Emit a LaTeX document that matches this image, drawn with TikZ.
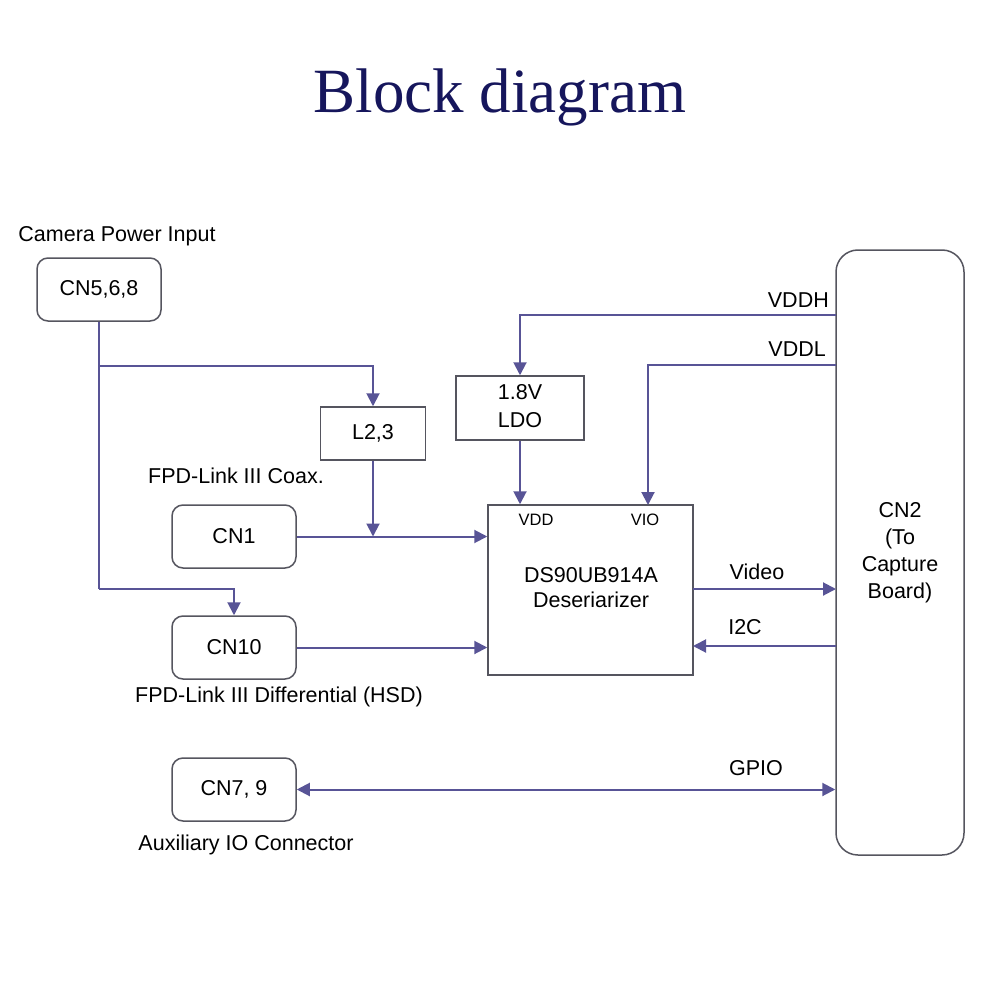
\documentclass[tikz,border=0pt]{standalone}
\usepackage{fontspec}
\setmainfont{Liberation Sans}
\newfontfamily\titlefont{Liberation Serif}
\usetikzlibrary{arrows.meta}
\definecolor{wire}{RGB}{88,84,150}
\definecolor{boxline}{RGB}{85,85,95}
\definecolor{titlecol}{RGB}{22,22,92}
\tikzset{
  rbox/.style={draw=boxline, line width=1.5pt, rounded corners=11pt, minimum width=124pt, minimum height=63pt, inner sep=0pt, font=\fontsize{21.5}{27}\selectfont, align=center},
  sbox/.style={draw=boxline, line width=1.5pt, inner sep=0pt, font=\fontsize{21.5}{27}\selectfont, align=center},
  lbl/.style={font=\fontsize{21.5}{27}\selectfont, inner sep=0pt},
  small/.style={font=\fontsize{16.5}{19}\selectfont, inner sep=0pt},
  wireln/.style={draw=wire, line width=2pt},
  arr/.style={wireln, -{Triangle[length=13pt,width=13pt]}},
  darr/.style={wireln, {Triangle[length=13pt,width=13pt]}-{Triangle[length=13pt,width=13pt]}}
}
\begin{document}
\begin{tikzpicture}[x=1pt,y=-1pt]
\useasboundingbox[fill=white] (0,0) rectangle (1000,1000);
% title
\node[text=titlecol, font=\titlefont\fontsize{63}{70}\selectfont, inner sep=0pt] (title) at (500,97) {Block diagram};
% boxes
\node[rbox] (cn568) at (99,289.5) {CN5,6,8};
\node[lbl] (campow) at (117,236) {Camera Power Input};
\node[sbox, minimum width=105pt, minimum height=53pt] (l23) at (373,433.5) {L2,3};
\node[lbl] (coax) at (236,476) {FPD-Link III Coax.};
\node[rbox] (cn1) at (234,536.5) {CN1};
\node[rbox] (cn10) at (234,647.5) {CN10};
\node[lbl] (hsd) at (279,697) {FPD-Link III Differential (HSD)};
\node[rbox] (cn79) at (234,789.5) {CN7, 9};
\node[lbl] (aux) at (246,845) {Auxiliary IO Connector};
\node[sbox, minimum width=128pt, minimum height=64pt] (ldo) at (520,408) {};
\node[lbl, font=\fontsize{21.5}{28}\selectfont] (ldotxt) at (520,408) {\begin{tabular}{@{}c@{}}1.8V\\LDO\end{tabular}};
\node[sbox, minimum width=205pt, minimum height=170pt] (ds) at (590.5,590) {};
\node[lbl, font=\fontsize{21.5}{25}\selectfont] (dstxt) at (591,589.5) {\begin{tabular}{@{}c@{}}DS90UB914A\\Deseriarizer\end{tabular}};
\node[small] (vdd) at (536,520) {VDD};
\node[small] (vio) at (645,520) {VIO};
\node[draw=boxline, line width=1.5pt, rounded corners=22pt, minimum width=128pt, minimum height=605pt, inner sep=0pt] (cn2) at (900,552.5) {};
\node[lbl] (cn2txt) at (900,552.5) {\begin{tabular}{@{}c@{}}CN2\\(To\\Capture\\Board)\end{tabular}};
% coordinates
\coordinate (j1) at (99,366);
\coordinate (j2) at (99,589);
\coordinate (vh) at (836,315);
\coordinate (vl) at (836,365);
% connectors
\draw[wireln] (cn568.south) -- (j1) -- (j2);
\draw[arr] (j1) -| (l23.north);
\draw[arr] (j2) -| (cn10.north);
\draw[arr] (l23.south) -- (l23.south |- cn1.east);
\draw[arr] (cn1.east) -- (cn1.east -| ds.west);
\draw[arr] (cn10.east) -- (cn10.east -| ds.west);
\draw[arr] (vh) -| (ldo.north);
\draw[arr] (ldo.south) -- (ldo.south |- ds.north);
\draw[arr] (vl) -| (648,505);
\draw[arr] (693,589) -- (836,589);
\draw[arr] (836,646) -- (693,646);
\draw[darr] (cn79.east) -- (cn79.east -| cn2.west);
% connector labels
\node[lbl, anchor=east] (vddh) at (829,300) {VDDH};
\node[lbl, anchor=east] (vddl) at (826,349) {VDDL};
\node[lbl] (video) at (757,572) {Video};
\node[lbl] (i2c) at (745,627) {I2C};
\node[lbl] (gpio) at (756,768) {GPIO};
\end{tikzpicture}
\end{document}
